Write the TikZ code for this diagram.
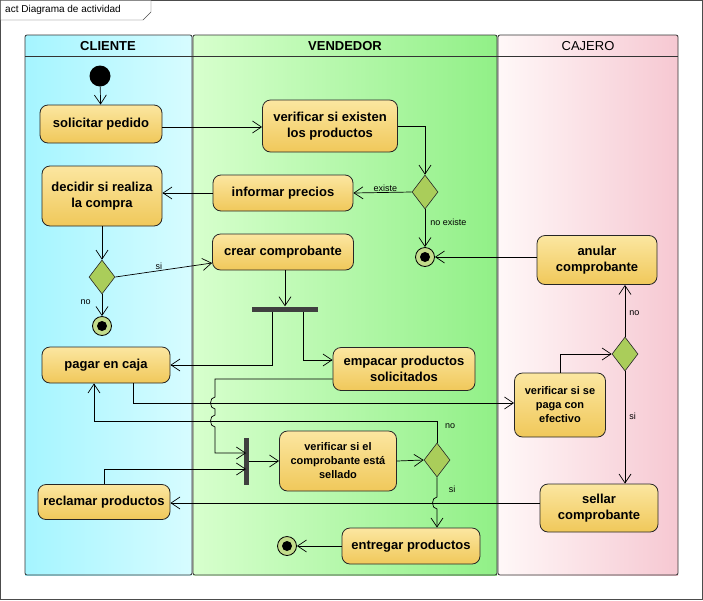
\documentclass[tikz,border=0pt]{standalone}
\usepackage{fontspec}
\setmainfont{Liberation Sans}
\usetikzlibrary{arrows.meta,shapes.geometric}
\definecolor{act}{RGB}{250,220,120}
\definecolor{actb}{RGB}{240,200,90}
\definecolor{dec}{RGB}{170,205,90}
\begin{document}
\begin{tikzpicture}[x=1pt,y=-1pt,
 lane/.style={draw=black!80,line width=0.8pt},
 act/.style={draw=black!85,line width=0.8pt,rounded corners=8pt,top color=act!70!white,bottom color=actb,align=center,font=\fontsize{13}{16}\selectfont\bfseries,inner sep=0pt},
 dec/.style={draw=black!85,diamond,fill=dec,minimum width=26pt,minimum height=34pt,inner sep=0pt,line width=0.6pt},
 fin/.style={circle,draw=black,fill=dec!70!white,minimum size=19pt,inner sep=0pt,line width=0.8pt,path picture={\fill[black] (path picture bounding box.center) circle (5pt);}},
 bar/.style={fill=black!75,inner sep=0pt},
 ar/.style={-{Straight Barb[length=9pt,width=12pt]},line width=0.7pt},
 lbl/.style={font=\fontsize{9}{10}\selectfont,inner sep=1pt}]
\useasboundingbox (0,0) rectangle (703,600);
\fill[white] (0,0) rectangle (703,600);
\draw[black!70] (0.5,0.5) rectangle (702,599);
\draw[black!70,fill=white] (0.5,0.5) -- (0.5,20) -- (143,20) -- (151,12) -- (151,0.5);
\node[anchor=west,font=\fontsize{10}{11}\selectfont,inner sep=0pt] (title) at (5,10) {act Diagrama de actividad};
% lanes
\shade[left color={rgb,255:red,165;green,245;blue,255},right color={rgb,255:red,215;green,252;blue,255}] (25,35) rectangle (192,575);
\shade[left color={rgb,255:red,215;green,255;blue,205},right color={rgb,255:red,145;green,240;blue,135}] (193,35) rectangle (497,575);
\shade[left color={rgb,255:red,255;green,248;blue,248},right color={rgb,255:red,246;green,200;blue,210}] (498,35) rectangle (678,575);
\draw[lane,rounded corners=2pt] (25,35) rectangle (192,575);
\draw[lane,rounded corners=2pt] (193,35) rectangle (497,575);
\draw[lane,rounded corners=2pt] (498,35) rectangle (678,575);
\draw[lane] (25,56) -- (678,56);
\node[font=\fontsize{13}{15}\selectfont\bfseries] (lc) at (108,46) {CLIENTE};
\node[font=\fontsize{13}{15}\selectfont\bfseries] (lv) at (345,46) {VENDEDOR};
\node[font=\fontsize{13}{15}\selectfont] (lj) at (588,46) {CAJERO};
% nodes
\node[circle,fill=black,minimum size=21pt,inner sep=0pt] (start) at (100,76) {};
\node[act,minimum width=122pt,minimum height=38pt] (sol) at (101,124) {solicitar pedido};
\node[act,minimum width=135pt,minimum height=52pt] (ver) at (330,126) {verificar si existen\\los productos};
\node[dec] (d1) at (425,192) {};
\node[act,minimum width=140pt,minimum height=36pt] (inf) at (283,193) {informar precios};
\node[act,minimum width=120pt,minimum height=60pt] (decid) at (102,196) {decidir si realiza\\la compra};
\node[dec] (d2) at (102,277) {};
\node[act,minimum width=141pt,minimum height=36pt] (crear) at (283,252) {crear comprobante};
\node[fin] (e1) at (102,326) {};
\node[fin] (e2) at (425,257) {};
\node[bar,minimum width=66pt,minimum height=5pt] (fork) at (285,309) {};
\node[act,minimum width=128pt,minimum height=36pt] (pagar) at (106,365) {pagar en caja};
\node[act,minimum width=142pt,minimum height=43pt] (emp) at (404,369) {empacar productos\\solicitados};
\node[act,minimum width=120pt,minimum height=49pt] (anular) at (597,260) {anular\\comprobante};
\node[dec] (d3) at (625,354) {};
\node[act,minimum width=91pt,minimum height=64pt,font=\fontsize{11}{14}\selectfont\bfseries] (vef) at (560,405) {verificar si se\\paga con\\efectivo};
\node[bar,minimum width=5pt,minimum height=47pt] (join) at (246,461) {};
\node[act,minimum width=117pt,minimum height=60pt,font=\fontsize{11}{14}\selectfont\bfseries] (vsel) at (338,461) {verificar si el\\comprobante está\\sellado};
\node[dec] (d4) at (437,460) {};
\node[act,minimum width=132pt,minimum height=35pt] (recl) at (104,502) {reclamar productos};
\node[act,minimum width=118pt,minimum height=48pt] (sellar) at (599,508) {sellar\\comprobante};
\node[act,minimum width=138pt,minimum height=36pt] (ent) at (411,546) {entregar productos};
\node[fin] (e3) at (287,546) {};
% edges
\draw[ar] (start) -- (sol);
\draw[ar] (sol.east |- 0,127) -- (ver.west |- 0,127);
\draw[ar] (ver.east) -| (d1.north);
\draw[ar] (d1.west) -- node[lbl,above,pos=0.45] {existe} (inf.east);
\draw[ar] (d1.south) -- node[lbl,right,pos=0.35,xshift=4pt] {no existe} (e2.north);
\draw[ar] (inf.west) -- (decid.east |- inf.west);
\draw[ar] (decid.south) -- (d2.north);
\draw[ar] (d2.east) -- node[lbl,above,pos=0.45] {si} (crear.west |- 0,263);
\draw[ar] (d2.south) -- node[lbl,left,pos=0.35,xshift=-10pt] {no} (e1.north);
\draw[ar] (crear.south -| fork) -- (fork.north);
\draw[ar] (fork.south -| 272,0) |- (pagar.east);
\draw[ar] (fork.south -| 303,0) |- (emp.west |- 0,360);
\coordinate (ja) at (246,453);
\coordinate (jb) at (246,469);
\draw[ar] (emp.west |- 0,379) -- (215,379) -- (215,397) .. controls (209,397) and (209,409) .. (215,409) -- (215,415) .. controls (209,415) and (209,427) .. (215,427) -- (215,453) -- (ja);
\draw[ar] (recl.north) |- (jb);
\draw[ar] (pagar.south -| 133,0) |- (vef.west |- 0,403);
\draw[ar] (d4.north) |- (94,421) -- (pagar.south -| 94,0);
\node[lbl] (lno4) at (450,426) {no};
\draw[ar] (join.east) -- (vsel.west);
\draw[ar] (vsel.east) -- (d4.west);
\draw[ar] (d4.south) -- (437,497) .. controls (431,497) and (431,509) .. (437,509) -- (ent.north -| d4);
\node[lbl] (lsi4) at (452,489) {si};
\draw[ar] (ent.west) -- (e3.east);
\draw[ar] (sellar.west |- 0,503) -- (recl.east |- 0,503);
\draw[ar] (vef.north) |- (d3.west);
\draw[ar] (d3.north) -- node[lbl,right,pos=0.45,xshift=3pt] {no} (anular.south -| d3);
\draw[ar] (d3.south) -- node[lbl,right,pos=0.4,xshift=3pt] {si} (sellar.north -| d3);
\draw[ar] (anular.west |- e2) -- (e2.east);
\end{tikzpicture}
\end{document}
